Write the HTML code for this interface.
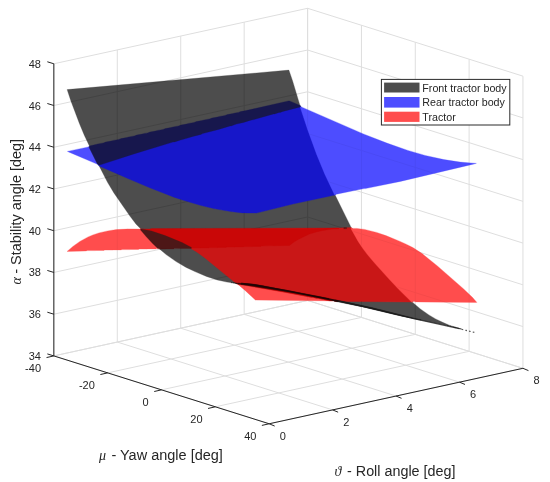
<!DOCTYPE html>
<html><head><meta charset="utf-8"><title>Stability angle surfaces</title><style>html,body{margin:0;padding:0;background:#fff;}svg{display:block;}</style></head><body>
<svg width="550" height="482" viewBox="0 0 550 482">
<rect width="550" height="482" fill="#ffffff"/>
<g shape-rendering="geometricPrecision">
<line x1="53.83" y1="355.92" x2="307.6" y2="300.45" stroke="#dedede" stroke-width="1.0"/>
<line x1="53.83" y1="314.19" x2="307.6" y2="258.71" stroke="#dedede" stroke-width="1.0"/>
<line x1="53.83" y1="272.45" x2="307.6" y2="216.98" stroke="#dedede" stroke-width="1.0"/>
<line x1="53.83" y1="230.72" x2="307.6" y2="175.24" stroke="#dedede" stroke-width="1.0"/>
<line x1="53.83" y1="188.98" x2="307.6" y2="133.51" stroke="#dedede" stroke-width="1.0"/>
<line x1="53.83" y1="147.25" x2="307.6" y2="91.77" stroke="#dedede" stroke-width="1.0"/>
<line x1="53.83" y1="105.51" x2="307.6" y2="50.03" stroke="#dedede" stroke-width="1.0"/>
<line x1="53.83" y1="63.78" x2="307.6" y2="8.3" stroke="#dedede" stroke-width="1.0"/>
<line x1="53.83" y1="355.92" x2="53.83" y2="63.78" stroke="#dedede" stroke-width="1.0"/>
<line x1="117.28" y1="342.05" x2="117.28" y2="49.91" stroke="#dedede" stroke-width="1.0"/>
<line x1="180.72" y1="328.19" x2="180.72" y2="36.04" stroke="#dedede" stroke-width="1.0"/>
<line x1="244.16" y1="314.32" x2="244.16" y2="22.17" stroke="#dedede" stroke-width="1.0"/>
<line x1="307.6" y1="300.45" x2="307.6" y2="8.3" stroke="#dedede" stroke-width="1.0"/>
<line x1="307.6" y1="300.45" x2="522.95" y2="368.3" stroke="#dedede" stroke-width="1.0"/>
<line x1="307.6" y1="258.71" x2="522.95" y2="326.56" stroke="#dedede" stroke-width="1.0"/>
<line x1="307.6" y1="216.98" x2="522.95" y2="284.82" stroke="#dedede" stroke-width="1.0"/>
<line x1="307.6" y1="175.24" x2="522.95" y2="243.09" stroke="#dedede" stroke-width="1.0"/>
<line x1="307.6" y1="133.51" x2="522.95" y2="201.35" stroke="#dedede" stroke-width="1.0"/>
<line x1="307.6" y1="91.77" x2="522.95" y2="159.62" stroke="#dedede" stroke-width="1.0"/>
<line x1="307.6" y1="50.03" x2="522.95" y2="117.88" stroke="#dedede" stroke-width="1.0"/>
<line x1="307.6" y1="8.3" x2="522.95" y2="76.15" stroke="#dedede" stroke-width="1.0"/>
<line x1="307.6" y1="300.45" x2="307.6" y2="8.3" stroke="#dedede" stroke-width="1.0"/>
<line x1="361.44" y1="317.41" x2="361.44" y2="25.26" stroke="#dedede" stroke-width="1.0"/>
<line x1="415.27" y1="334.37" x2="415.27" y2="42.22" stroke="#dedede" stroke-width="1.0"/>
<line x1="469.11" y1="351.33" x2="469.11" y2="59.19" stroke="#dedede" stroke-width="1.0"/>
<line x1="522.95" y1="368.3" x2="522.95" y2="76.15" stroke="#dedede" stroke-width="1.0"/>
<line x1="53.83" y1="355.92" x2="269.18" y2="423.77" stroke="#dedede" stroke-width="1.0"/>
<line x1="117.28" y1="342.05" x2="332.62" y2="409.9" stroke="#dedede" stroke-width="1.0"/>
<line x1="180.72" y1="328.19" x2="396.06" y2="396.03" stroke="#dedede" stroke-width="1.0"/>
<line x1="244.16" y1="314.32" x2="459.5" y2="382.16" stroke="#dedede" stroke-width="1.0"/>
<line x1="307.6" y1="300.45" x2="522.95" y2="368.3" stroke="#dedede" stroke-width="1.0"/>
<line x1="53.83" y1="355.92" x2="307.6" y2="300.45" stroke="#dedede" stroke-width="1.0"/>
<line x1="107.67" y1="372.88" x2="361.44" y2="317.41" stroke="#dedede" stroke-width="1.0"/>
<line x1="161.51" y1="389.85" x2="415.27" y2="334.37" stroke="#dedede" stroke-width="1.0"/>
<line x1="215.34" y1="406.81" x2="469.11" y2="351.33" stroke="#dedede" stroke-width="1.0"/>
<line x1="269.18" y1="423.77" x2="522.95" y2="368.3" stroke="#dedede" stroke-width="1.0"/>
</g><g>
<path fill="#4d4d4d" stroke="#4d4d4d" stroke-width="0.3" stroke-linejoin="round" fill-rule="evenodd" d="M338.88 300.62 338.88 301.62 370.88 308.38 399.62 315.38 400.62 315.88 443.88 324.88 461.62 329.12 449.88 325.38 442.12 322.12 435.62 318.88 428.88 314.88 420.38 308.88 412.12 301.88 412.38 301.62 413.12 301.62 412.62 301.38ZM158.88 248.38 166.12 254.62 176.12 261.62 186.12 267.38 194.88 271.62 206.38 276.38 217.12 279.88 226.88 282.12 237.12 283.62 237.12 282.88 208.12 258.88 197.62 251.12 191.88 247.62 181.88 247.62 181.62 247.88ZM98.12 164.62 98.88 165.38 107.38 182.12 113.88 192.88 129.88 216.12 135.88 223.88 140.38 228.62 139.88 229.62 351.62 228.38 335.12 195.12 335.12 194.62 335.62 194.38 332.38 194.62 291.88 203.38 255.62 212.38 247.38 212.38 247.12 212.12 243.38 212.12 231.62 210.88 214.62 207.88 202.12 204.88 188.38 200.88 175.62 196.62 147.12 185.62 124.88 176.12 99.38 164.62ZM300.88 106.62 300.12 105.88 292.62 80.88 288.88 70.12 67.12 89.62 70.88 100.88 79.38 123.38 84.38 135.38 89.38 145.88 88.88 146.88 143.12 134.88 145.38 134.12 233.88 114.38 236.12 113.62 285.88 102.62 288.12 101.88 289.12 101.88 298.62 106.12Z"/>
<path fill="#1717c9" stroke="#1717c9" stroke-width="0.3" stroke-linejoin="round" fill-rule="evenodd" d="M335.38 194.38 325.62 173.38 317.38 153.38 308.62 129.38 301.38 107.12 300.12 105.88 281.88 110.62 279.12 111.62 278.12 111.62 273.62 113.12 272.62 113.12 252.62 118.88 248.88 119.62 242.62 121.62 235.38 123.38 230.12 125.12 229.12 125.12 217.62 128.62 191.88 135.62 181.38 138.88 179.62 139.12 132.88 153.12 98.12 164.38 98.88 165.62 100.12 166.38 127.88 178.62 150.38 188.12 174.62 197.38 187.38 201.62 201.12 205.62 213.62 208.62 230.62 211.62 242.38 212.88 246.12 212.88 246.38 213.12 256.62 213.12 292.88 204.12 335.12 195.12Z"/>
<path fill="#c91717" stroke="#c91717" stroke-width="0.3" stroke-linejoin="round" fill-rule="evenodd" d="M412.38 302.12 412.12 301.88 412.38 301.12 394.88 283.62 370.38 256.38 363.62 247.62 357.38 237.88 352.12 228.12 351.38 228.12 351.12 227.62 337.88 227.88 337.62 228.12 331.12 228.38 322.12 229.62 315.38 231.12 306.38 234.12 298.12 238.12 292.88 241.38 288.62 244.62 260.12 245.38 259.88 245.62 251.38 245.62 251.12 245.88 242.62 245.88 242.38 246.12 233.88 246.12 233.62 246.38 225.38 246.38 225.12 246.62 216.62 246.62 216.38 246.88 207.88 246.88 207.62 247.12 199.38 247.12 199.12 247.38 190.62 247.38 190.62 248.38 195.88 251.38 204.88 257.88 236.12 283.62 239.62 284.12 248.12 284.38 257.12 285.62 284.62 290.62 293.88 292.62 295.12 292.62 301.62 294.12 302.88 294.12 336.38 300.88 337.62 301.38Z"/>
<path fill="#4d4dff" stroke="#4d4dff" stroke-width="0.3" stroke-linejoin="round" fill-rule="evenodd" d="M98.88 165.38 98.88 164.38 89.88 146.12 88.38 146.88 67.38 151.38 98.12 164.62ZM300.12 105.88 300.12 107.12 307.88 130.38 316.62 154.38 324.88 174.38 334.62 195.12 335.12 195.12 335.38 194.38 364.12 188.62 365.38 188.62 400.38 181.38 476.38 163.38 460.12 162.12 443.88 159.62 425.12 155.38 407.88 150.38 386.88 143.12 363.38 133.88 301.38 106.88Z"/>
<path fill="#ff4d4d" stroke="#ff4d4d" stroke-width="0.3" stroke-linejoin="round" fill-rule="evenodd" d="M236.88 283.38 245.62 290.88 255.38 300.12 332.88 300.88 332.88 300.38 296.12 293.38 265.12 288.12 263.62 287.62ZM159.38 248.12 154.38 243.62 148.88 237.88 141.38 228.88 140.62 228.62 140.12 229.12 126.62 228.88 126.38 229.12 116.38 229.62 107.62 230.88 98.88 232.88 92.88 234.88 88.12 236.88 79.88 241.38 72.88 246.38 67.12 251.38 86.62 250.88 86.88 250.62 95.38 250.62 95.62 250.38 104.12 250.38 104.38 250.12 112.62 250.12 112.88 249.88 121.38 249.88 121.62 249.62 130.12 249.62 130.38 249.38 138.62 249.38 138.88 249.12 147.38 249.12 147.62 248.88 156.12 248.88 156.38 248.62 159.12 248.62 159.38 248.88ZM351.12 227.62 351.12 228.88 358.12 241.38 362.88 248.62 367.38 254.62 374.12 262.62 390.38 280.62 398.88 289.62 411.62 302.12 412.62 302.12 412.12 301.88 412.38 301.62 415.12 301.62 415.38 301.88 476.88 302.38 472.62 297.62 463.62 288.88 437.38 265.88 422.12 253.62 412.88 247.62 405.62 243.88 398.88 240.88 385.88 235.62 376.62 232.38 364.62 229.38 356.88 228.38 352.38 228.38 351.38 228.12Z"/>
<path fill="#17174d" stroke="#17174d" stroke-width="0.3" stroke-linejoin="round" fill-rule="evenodd" d="M300.62 106.38 300.12 105.38 289.62 100.88 288.38 100.88 246.12 110.62 240.62 111.62 238.38 112.38 235.12 112.88 232.88 113.62 227.38 114.62 225.12 115.38 219.62 116.38 217.38 117.12 211.88 118.12 209.62 118.88 204.12 119.88 201.88 120.62 196.38 121.62 194.12 122.38 188.62 123.38 186.38 124.12 180.88 125.12 178.62 125.88 173.12 126.88 170.88 127.62 165.38 128.62 163.12 129.38 157.62 130.38 155.38 131.12 149.88 132.12 147.62 132.88 144.38 133.38 142.12 134.12 136.62 135.12 134.38 135.88 128.88 136.88 126.62 137.62 121.12 138.62 118.88 139.38 113.38 140.38 111.12 141.12 105.62 142.12 103.38 142.88 97.88 143.88 95.62 144.62 89.38 145.88 89.12 147.38 97.38 164.12 98.62 165.12 99.62 165.12 133.88 153.88 172.88 142.12 174.62 141.88 180.62 139.88 182.38 139.62 192.88 136.38 200.88 134.38 202.62 133.62 218.62 129.38 230.12 125.88 231.12 125.88 236.38 124.12 243.62 122.38 249.88 120.38 253.62 119.62 273.62 113.88 274.62 113.88 279.12 112.38 280.12 112.38 282.88 111.38 300.38 106.88Z"/>
<path fill="#c90707" stroke="#c90707" stroke-width="0.3" stroke-linejoin="round" fill-rule="evenodd" d="M338.62 227.88 150.88 228.62 150.62 228.88 141.38 228.88 141.38 230.12 142.88 230.12 150.62 231.88 160.12 234.88 181.12 243.38 190.12 248.12 200.12 248.12 200.38 247.88 208.62 247.88 208.88 247.62 217.38 247.62 217.62 247.38 226.12 247.38 226.38 247.12 234.62 247.12 234.88 246.88 243.38 246.88 243.62 246.62 252.12 246.62 252.38 246.38 260.88 246.38 261.12 246.12 289.62 245.38 293.88 242.12 299.12 238.88 309.38 234.12 316.38 231.88 323.12 230.38 332.12 229.12 338.62 228.88Z"/>
<path fill="#4d1717" stroke="#4d1717" stroke-width="0.3" stroke-linejoin="round" fill-rule="evenodd" d="M140.62 228.88 140.62 230.12 146.12 236.62 152.62 243.62 157.88 248.62 159.12 248.62 159.62 249.12 165.38 249.12 165.62 248.88 173.88 248.88 174.12 248.62 191.38 248.38 191.38 247.38 182.12 242.62 165.12 235.62 151.62 231.12 143.88 229.38 142.38 229.38 142.12 228.88ZM343.88 227.62 343.88 228.62 346.62 228.62 346.62 227.62Z"/>
<path fill="#b90707" stroke="#b90707" stroke-width="0.3" stroke-linejoin="round" fill-rule="evenodd" d="M236.62 283.12 236.62 283.62 238.62 284.62 240.12 284.62 282.62 291.88 311.38 297.38 312.62 297.38 316.62 298.38 317.88 298.38 329.62 300.88 333.62 300.88 335.12 301.38 338.38 301.38 338.38 300.38 300.62 293.12 261.62 286.62 238.38 283.12Z"/>
<path fill="#171717" stroke="#171717" stroke-width="0.3" stroke-linejoin="round" fill-rule="evenodd" d="M457.62 327.88 458.12 328.38 461.62 329.12ZM453.38 326.88 453.88 327.38 456.38 327.88 456.12 327.38ZM450.12 326.12 451.12 326.62 451.12 326.12ZM446.88 325.38 447.88 325.88 447.88 325.38ZM333.38 300.62 333.88 301.12 362.62 306.88 396.12 314.88 420.88 320.12 420.88 319.62 416.62 318.88 371.88 307.62 339.62 300.62ZM232.38 282.62 232.88 283.12 234.38 283.12 237.38 283.88 237.38 283.12 236.62 282.88ZM230.88 282.38 231.88 282.88 231.88 282.38Z"/>
<path fill="#3c0707" stroke="#3c0707" stroke-width="0.3" stroke-linejoin="round" fill-rule="evenodd" d="M335.12 299.88 335.12 300.88 337.38 301.12 337.38 300.12ZM237.62 283.12 237.62 284.12 250.88 285.88 289.62 292.12 328.88 299.38 328.88 298.38 262.38 285.62 251.62 283.88Z"/>
</g>
<polyline fill="none" stroke="#1c0404" stroke-width="1.7" stroke-linecap="round" stroke-opacity="0.9" points="241.5,283.6 247.2,284.1 255.3,285.2 271.1,288 287,290.9 302.8,294 318.7,297.1 334.6,300.3 338,301"/>
<polyline fill="none" stroke="#1e1e1e" stroke-width="1.2" stroke-linecap="round" stroke-opacity="0.75" points="338,301 350.4,303.6 366.3,307.1 382.1,310.7 398,314.7 413.8,318.7 429.7,322.2 445.5,325.6 458,328.4"/>
<polyline fill="none" stroke="#2a2a2a" stroke-width="1.1" stroke-dasharray="1.6 2.2" stroke-opacity="0.8" points="458,328.4 466,330.4 476,332.8"/>
<clipPath id="sc1"><path fill-rule="evenodd" d="M339.38 301.12 371.38 307.88 416.12 319.12 447.38 325.62 459.88 328.62 451.88 326.12 446.12 323.88 435.62 318.88 428.88 314.88 423.38 311.12 412.12 301.88ZM159.38 248.88 166.12 254.62 176.12 261.62 186.12 267.38 194.88 271.62 206.38 276.38 217.12 279.88 226.88 282.12 236.62 283.38 207.62 259.38 197.12 251.62 191.38 248.12ZM98.62 165.12 104.88 177.62 113.88 192.88 129.88 216.12 135.88 223.88 140.38 228.62 140.38 229.12 351.12 227.88 342.38 210.38 335.12 194.88 292.38 203.88 256.12 212.88 246.88 212.88 246.62 212.62 242.88 212.62 231.12 211.38 214.12 208.38 201.62 205.38 187.88 201.38 175.12 197.12 158.38 190.88 140.62 183.62ZM300.38 106.12 295.38 90.62 292.62 80.88 288.88 70.12 67.12 89.62 70.88 100.88 79.38 123.38 89.38 146.38 288.88 101.12Z"/></clipPath>
<clipPath id="sc2"><path fill-rule="evenodd" d="M237.38 283.88 245.62 290.88 255.38 300.12 332.38 300.88 290.12 292.88ZM158.88 248.62 153.88 244.12 148.38 238.38 140.88 229.38 134.12 229.12 133.88 228.88 126.62 228.88 126.38 229.12 116.38 229.62 107.62 230.88 98.88 232.88 92.88 234.88 88.12 236.88 79.88 241.38 72.88 246.38 67.12 251.38ZM351.62 228.12 355.12 234.88 359.88 242.88 364.62 249.88 370.12 256.88 394.62 284.12 412.12 301.62 476.88 302.38 472.62 297.62 463.62 288.88 437.38 265.88 422.12 253.62 412.88 247.62 405.62 243.88 398.88 240.88 385.88 235.62 376.62 232.38 364.62 229.38 356.88 228.38ZM98.38 164.88 89.38 146.62 67.38 151.38 86.38 159.38ZM300.62 106.38 308.38 129.88 317.12 153.88 325.38 173.88 335.12 194.62 337.62 193.88 393.62 182.88 476.38 163.38 460.12 162.12 443.88 159.62 425.12 155.38 407.88 150.38 386.88 143.12 367.62 135.62 339.38 123.62Z"/></clipPath>
<g clip-path="url(#sc1)" opacity="0.12">
<line x1="53.83" y1="355.92" x2="307.6" y2="300.45" stroke="#000" stroke-width="1.0"/>
<line x1="53.83" y1="314.19" x2="307.6" y2="258.71" stroke="#000" stroke-width="1.0"/>
<line x1="53.83" y1="272.45" x2="307.6" y2="216.98" stroke="#000" stroke-width="1.0"/>
<line x1="53.83" y1="230.72" x2="307.6" y2="175.24" stroke="#000" stroke-width="1.0"/>
<line x1="53.83" y1="188.98" x2="307.6" y2="133.51" stroke="#000" stroke-width="1.0"/>
<line x1="53.83" y1="147.25" x2="307.6" y2="91.77" stroke="#000" stroke-width="1.0"/>
<line x1="53.83" y1="105.51" x2="307.6" y2="50.03" stroke="#000" stroke-width="1.0"/>
<line x1="53.83" y1="63.78" x2="307.6" y2="8.3" stroke="#000" stroke-width="1.0"/>
<line x1="53.83" y1="355.92" x2="53.83" y2="63.78" stroke="#000" stroke-width="1.0"/>
<line x1="117.28" y1="342.05" x2="117.28" y2="49.91" stroke="#000" stroke-width="1.0"/>
<line x1="180.72" y1="328.19" x2="180.72" y2="36.04" stroke="#000" stroke-width="1.0"/>
<line x1="244.16" y1="314.32" x2="244.16" y2="22.17" stroke="#000" stroke-width="1.0"/>
<line x1="307.6" y1="300.45" x2="307.6" y2="8.3" stroke="#000" stroke-width="1.0"/>
<line x1="307.6" y1="300.45" x2="522.95" y2="368.3" stroke="#000" stroke-width="1.0"/>
<line x1="307.6" y1="258.71" x2="522.95" y2="326.56" stroke="#000" stroke-width="1.0"/>
<line x1="307.6" y1="216.98" x2="522.95" y2="284.82" stroke="#000" stroke-width="1.0"/>
<line x1="307.6" y1="175.24" x2="522.95" y2="243.09" stroke="#000" stroke-width="1.0"/>
<line x1="307.6" y1="133.51" x2="522.95" y2="201.35" stroke="#000" stroke-width="1.0"/>
<line x1="307.6" y1="91.77" x2="522.95" y2="159.62" stroke="#000" stroke-width="1.0"/>
<line x1="307.6" y1="50.03" x2="522.95" y2="117.88" stroke="#000" stroke-width="1.0"/>
<line x1="307.6" y1="8.3" x2="522.95" y2="76.15" stroke="#000" stroke-width="1.0"/>
<line x1="307.6" y1="300.45" x2="307.6" y2="8.3" stroke="#000" stroke-width="1.0"/>
<line x1="361.44" y1="317.41" x2="361.44" y2="25.26" stroke="#000" stroke-width="1.0"/>
<line x1="415.27" y1="334.37" x2="415.27" y2="42.22" stroke="#000" stroke-width="1.0"/>
<line x1="469.11" y1="351.33" x2="469.11" y2="59.19" stroke="#000" stroke-width="1.0"/>
<line x1="522.95" y1="368.3" x2="522.95" y2="76.15" stroke="#000" stroke-width="1.0"/>
<line x1="53.83" y1="355.92" x2="269.18" y2="423.77" stroke="#000" stroke-width="1.0"/>
<line x1="117.28" y1="342.05" x2="332.62" y2="409.9" stroke="#000" stroke-width="1.0"/>
<line x1="180.72" y1="328.19" x2="396.06" y2="396.03" stroke="#000" stroke-width="1.0"/>
<line x1="244.16" y1="314.32" x2="459.5" y2="382.16" stroke="#000" stroke-width="1.0"/>
<line x1="307.6" y1="300.45" x2="522.95" y2="368.3" stroke="#000" stroke-width="1.0"/>
<line x1="53.83" y1="355.92" x2="307.6" y2="300.45" stroke="#000" stroke-width="1.0"/>
<line x1="107.67" y1="372.88" x2="361.44" y2="317.41" stroke="#000" stroke-width="1.0"/>
<line x1="161.51" y1="389.85" x2="415.27" y2="334.37" stroke="#000" stroke-width="1.0"/>
<line x1="215.34" y1="406.81" x2="469.11" y2="351.33" stroke="#000" stroke-width="1.0"/>
<line x1="269.18" y1="423.77" x2="522.95" y2="368.3" stroke="#000" stroke-width="1.0"/>
</g>
<g clip-path="url(#sc2)" opacity="0.04">
<line x1="53.83" y1="355.92" x2="307.6" y2="300.45" stroke="#000" stroke-width="1.0"/>
<line x1="53.83" y1="314.19" x2="307.6" y2="258.71" stroke="#000" stroke-width="1.0"/>
<line x1="53.83" y1="272.45" x2="307.6" y2="216.98" stroke="#000" stroke-width="1.0"/>
<line x1="53.83" y1="230.72" x2="307.6" y2="175.24" stroke="#000" stroke-width="1.0"/>
<line x1="53.83" y1="188.98" x2="307.6" y2="133.51" stroke="#000" stroke-width="1.0"/>
<line x1="53.83" y1="147.25" x2="307.6" y2="91.77" stroke="#000" stroke-width="1.0"/>
<line x1="53.83" y1="105.51" x2="307.6" y2="50.03" stroke="#000" stroke-width="1.0"/>
<line x1="53.83" y1="63.78" x2="307.6" y2="8.3" stroke="#000" stroke-width="1.0"/>
<line x1="53.83" y1="355.92" x2="53.83" y2="63.78" stroke="#000" stroke-width="1.0"/>
<line x1="117.28" y1="342.05" x2="117.28" y2="49.91" stroke="#000" stroke-width="1.0"/>
<line x1="180.72" y1="328.19" x2="180.72" y2="36.04" stroke="#000" stroke-width="1.0"/>
<line x1="244.16" y1="314.32" x2="244.16" y2="22.17" stroke="#000" stroke-width="1.0"/>
<line x1="307.6" y1="300.45" x2="307.6" y2="8.3" stroke="#000" stroke-width="1.0"/>
<line x1="307.6" y1="300.45" x2="522.95" y2="368.3" stroke="#000" stroke-width="1.0"/>
<line x1="307.6" y1="258.71" x2="522.95" y2="326.56" stroke="#000" stroke-width="1.0"/>
<line x1="307.6" y1="216.98" x2="522.95" y2="284.82" stroke="#000" stroke-width="1.0"/>
<line x1="307.6" y1="175.24" x2="522.95" y2="243.09" stroke="#000" stroke-width="1.0"/>
<line x1="307.6" y1="133.51" x2="522.95" y2="201.35" stroke="#000" stroke-width="1.0"/>
<line x1="307.6" y1="91.77" x2="522.95" y2="159.62" stroke="#000" stroke-width="1.0"/>
<line x1="307.6" y1="50.03" x2="522.95" y2="117.88" stroke="#000" stroke-width="1.0"/>
<line x1="307.6" y1="8.3" x2="522.95" y2="76.15" stroke="#000" stroke-width="1.0"/>
<line x1="307.6" y1="300.45" x2="307.6" y2="8.3" stroke="#000" stroke-width="1.0"/>
<line x1="361.44" y1="317.41" x2="361.44" y2="25.26" stroke="#000" stroke-width="1.0"/>
<line x1="415.27" y1="334.37" x2="415.27" y2="42.22" stroke="#000" stroke-width="1.0"/>
<line x1="469.11" y1="351.33" x2="469.11" y2="59.19" stroke="#000" stroke-width="1.0"/>
<line x1="522.95" y1="368.3" x2="522.95" y2="76.15" stroke="#000" stroke-width="1.0"/>
<line x1="53.83" y1="355.92" x2="269.18" y2="423.77" stroke="#000" stroke-width="1.0"/>
<line x1="117.28" y1="342.05" x2="332.62" y2="409.9" stroke="#000" stroke-width="1.0"/>
<line x1="180.72" y1="328.19" x2="396.06" y2="396.03" stroke="#000" stroke-width="1.0"/>
<line x1="244.16" y1="314.32" x2="459.5" y2="382.16" stroke="#000" stroke-width="1.0"/>
<line x1="307.6" y1="300.45" x2="522.95" y2="368.3" stroke="#000" stroke-width="1.0"/>
<line x1="53.83" y1="355.92" x2="307.6" y2="300.45" stroke="#000" stroke-width="1.0"/>
<line x1="107.67" y1="372.88" x2="361.44" y2="317.41" stroke="#000" stroke-width="1.0"/>
<line x1="161.51" y1="389.85" x2="415.27" y2="334.37" stroke="#000" stroke-width="1.0"/>
<line x1="215.34" y1="406.81" x2="469.11" y2="351.33" stroke="#000" stroke-width="1.0"/>
<line x1="269.18" y1="423.77" x2="522.95" y2="368.3" stroke="#000" stroke-width="1.0"/>
</g><g>
<line x1="53.83" y1="355.92" x2="53.83" y2="63.78" stroke="#262626" stroke-width="1.0"/>
<line x1="53.83" y1="355.92" x2="269.18" y2="423.77" stroke="#262626" stroke-width="1.0"/>
<line x1="269.18" y1="423.77" x2="522.95" y2="368.3" stroke="#262626" stroke-width="1.0"/>
<line x1="53.83" y1="355.92" x2="47.33" y2="353.92" stroke="#262626" stroke-width="1.0"/>
<line x1="53.83" y1="314.19" x2="47.33" y2="312.19" stroke="#262626" stroke-width="1.0"/>
<line x1="53.83" y1="272.45" x2="47.33" y2="270.45" stroke="#262626" stroke-width="1.0"/>
<line x1="53.83" y1="230.72" x2="47.33" y2="228.72" stroke="#262626" stroke-width="1.0"/>
<line x1="53.83" y1="188.98" x2="47.33" y2="186.98" stroke="#262626" stroke-width="1.0"/>
<line x1="53.83" y1="147.25" x2="47.33" y2="145.25" stroke="#262626" stroke-width="1.0"/>
<line x1="53.83" y1="105.51" x2="47.33" y2="103.51" stroke="#262626" stroke-width="1.0"/>
<line x1="53.83" y1="63.78" x2="47.33" y2="61.78" stroke="#262626" stroke-width="1.0"/>
<line x1="53.83" y1="355.92" x2="46.53" y2="357.57" stroke="#262626" stroke-width="1.0"/>
<line x1="107.67" y1="372.88" x2="100.37" y2="374.53" stroke="#262626" stroke-width="1.0"/>
<line x1="161.51" y1="389.85" x2="154.21" y2="391.5" stroke="#262626" stroke-width="1.0"/>
<line x1="215.34" y1="406.81" x2="208.04" y2="408.46" stroke="#262626" stroke-width="1.0"/>
<line x1="269.18" y1="423.77" x2="261.88" y2="425.42" stroke="#262626" stroke-width="1.0"/>
<line x1="269.18" y1="423.77" x2="274.68" y2="426.07" stroke="#262626" stroke-width="1.0"/>
<line x1="332.62" y1="409.9" x2="338.12" y2="412.2" stroke="#262626" stroke-width="1.0"/>
<line x1="396.06" y1="396.03" x2="401.56" y2="398.33" stroke="#262626" stroke-width="1.0"/>
<line x1="459.5" y1="382.16" x2="465" y2="384.46" stroke="#262626" stroke-width="1.0"/>
<line x1="522.95" y1="368.3" x2="528.45" y2="370.6" stroke="#262626" stroke-width="1.0"/>
</g>
<text x="41.0" y="359.92" text-anchor="end" font-family="'Liberation Sans', Arial, Helvetica, sans-serif" font-size="11" fill="#262626">34</text>
<text x="41.0" y="318.19" text-anchor="end" font-family="'Liberation Sans', Arial, Helvetica, sans-serif" font-size="11" fill="#262626">36</text>
<text x="41.0" y="276.45" text-anchor="end" font-family="'Liberation Sans', Arial, Helvetica, sans-serif" font-size="11" fill="#262626">38</text>
<text x="41.0" y="234.72" text-anchor="end" font-family="'Liberation Sans', Arial, Helvetica, sans-serif" font-size="11" fill="#262626">40</text>
<text x="41.0" y="192.98" text-anchor="end" font-family="'Liberation Sans', Arial, Helvetica, sans-serif" font-size="11" fill="#262626">42</text>
<text x="41.0" y="151.25" text-anchor="end" font-family="'Liberation Sans', Arial, Helvetica, sans-serif" font-size="11" fill="#262626">44</text>
<text x="41.0" y="109.51" text-anchor="end" font-family="'Liberation Sans', Arial, Helvetica, sans-serif" font-size="11" fill="#262626">46</text>
<text x="41.0" y="67.78" text-anchor="end" font-family="'Liberation Sans', Arial, Helvetica, sans-serif" font-size="11" fill="#262626">48</text>
<text x="41.03" y="372.22" text-anchor="end" font-family="'Liberation Sans', Arial, Helvetica, sans-serif" font-size="11" fill="#262626">-40</text>
<text x="94.87" y="389.19" text-anchor="end" font-family="'Liberation Sans', Arial, Helvetica, sans-serif" font-size="11" fill="#262626">-20</text>
<text x="148.71" y="406.15" text-anchor="end" font-family="'Liberation Sans', Arial, Helvetica, sans-serif" font-size="11" fill="#262626">0</text>
<text x="202.54" y="423.11" text-anchor="end" font-family="'Liberation Sans', Arial, Helvetica, sans-serif" font-size="11" fill="#262626">20</text>
<text x="256.38" y="440.07" text-anchor="end" font-family="'Liberation Sans', Arial, Helvetica, sans-serif" font-size="11" fill="#262626">40</text>
<text x="279.78" y="439.77" font-family="'Liberation Sans', Arial, Helvetica, sans-serif" font-size="11" fill="#262626">0</text>
<text x="343.22" y="425.9" font-family="'Liberation Sans', Arial, Helvetica, sans-serif" font-size="11" fill="#262626">2</text>
<text x="406.66" y="412.03" font-family="'Liberation Sans', Arial, Helvetica, sans-serif" font-size="11" fill="#262626">4</text>
<text x="470.1" y="398.16" font-family="'Liberation Sans', Arial, Helvetica, sans-serif" font-size="11" fill="#262626">6</text>
<text x="533.55" y="384.3" font-family="'Liberation Sans', Arial, Helvetica, sans-serif" font-size="11" fill="#262626">8</text>
<text x="99" y="460.4" font-family="'Liberation Serif', 'Times New Roman', serif" font-style="italic" font-size="14" fill="#262626">&#956;</text>
<text x="111.4" y="460.4" font-family="'Liberation Sans', Arial, Helvetica, sans-serif" font-size="14" fill="#262626" textLength="111.5" lengthAdjust="spacingAndGlyphs">- Yaw angle [deg]</text>
<text x="334.6" y="475.5" font-family="'Liberation Serif', 'Times New Roman', serif" font-style="italic" font-size="14" fill="#262626">&#977;</text>
<text x="347" y="475.5" font-family="'Liberation Sans', Arial, Helvetica, sans-serif" font-size="14" fill="#262626" textLength="108.5" lengthAdjust="spacingAndGlyphs">- Roll angle [deg]</text>
<g transform="translate(20.6,284.5) rotate(-90)"><text x="0" y="0" font-family="'Liberation Serif', 'Times New Roman', serif" font-style="italic" font-size="14" fill="#262626">&#945;</text><text x="10.8" y="0" font-family="'Liberation Sans', Arial, Helvetica, sans-serif" font-size="14" fill="#262626" textLength="134.8" lengthAdjust="spacingAndGlyphs">- Stability angle [deg]</text></g>
<rect x="381.4" y="79.4" width="128.4" height="45.6" fill="#ffffff" stroke="#2b2b2b" stroke-width="1"/>
<rect x="384.1" y="82.6" width="35.4" height="9.9" fill="#4d4d4d"/>
<text x="422.3" y="92.1" font-family="'Liberation Sans', Arial, Helvetica, sans-serif" font-size="10.7" fill="#262626">Front tractor body</text>
<rect x="384.1" y="97" width="35.4" height="10.6" fill="#4d4dff"/>
<text x="422.3" y="106.4" font-family="'Liberation Sans', Arial, Helvetica, sans-serif" font-size="10.7" fill="#262626">Rear tractor body</text>
<rect x="384.1" y="111.7" width="35.4" height="10.2" fill="#ff4d4d"/>
<text x="422.3" y="120.8" font-family="'Liberation Sans', Arial, Helvetica, sans-serif" font-size="10.7" fill="#262626">Tractor</text>
</svg></body></html>
